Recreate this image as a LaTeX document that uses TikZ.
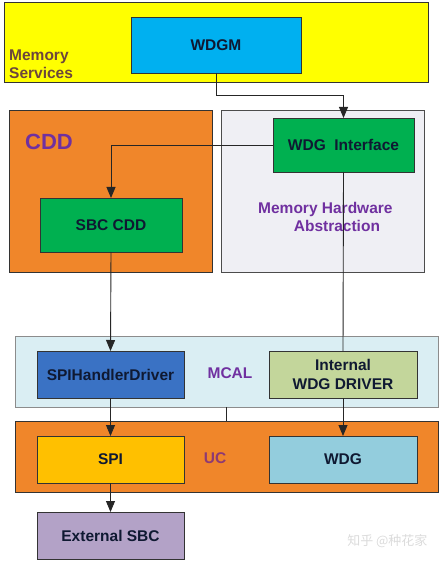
\documentclass[tikz,border=0pt]{standalone}
\usepackage{fontspec}
\setmainfont{Liberation Sans}
\newfontfamily\cjk{Noto Sans CJK SC}
\usetikzlibrary{arrows.meta}

\definecolor{memyellow}{RGB}{255,255,0}
\definecolor{wdgmblue}{RGB}{0,176,240}
\definecolor{layerorange}{RGB}{240,134,42}
\definecolor{hwgray}{RGB}{239,239,244}
\definecolor{ifgreen}{RGB}{0,176,80}
\definecolor{mcalcyan}{RGB}{218,238,243}
\definecolor{spiblue}{RGB}{58,114,196}
\definecolor{drvolive}{RGB}{195,214,155}
\definecolor{spigold}{RGB}{255,192,0}
\definecolor{wdgcyan}{RGB}{147,205,221}
\definecolor{sbclilac}{RGB}{179,162,199}
\definecolor{labelpurple}{RGB}{112,48,160}
\definecolor{labelbrown}{RGB}{108,70,60}
\definecolor{labelplum}{RGB}{142,58,115}
\definecolor{boxtext}{RGB}{15,25,50}

\begin{document}
\begin{tikzpicture}[x=1pt, y=-1pt,
    layer/.style={draw=black!80, line width=0.8pt, inner sep=0pt, outer sep=0pt},
    unit/.style={draw=black!80, line width=0.8pt, inner sep=0pt, outer sep=0pt,
      minimum width=147pt, minimum height=47pt, text=boxtext, align=center,
      font=\fontsize{15.5}{18.5}\selectfont\bfseries},
    lbl/.style={font=\fontsize{15.5}{18.5}\selectfont\bfseries, align=left, inner sep=0pt},
    conn/.style={draw=black!85, line width=0.9pt},
    flow/.style={conn, -{Triangle[width=9pt,length=11pt]}}]
    \useasboundingbox (0,0) rectangle (440,561);

    % layers
    \node[layer, fill=memyellow, minimum width=424pt, minimum height=80pt] (memsrv) at (216,42) {};
    \node[layer, fill=layerorange, minimum width=203pt, minimum height=162pt] (cdd) at (110.5,191) {};
    \node[layer, fill=hwgray, draw=black!70, minimum width=203pt, minimum height=162pt] (memhw) at (322.5,191) {};
    \node[layer, fill=mcalcyan, draw=black!45, minimum width=423pt, minimum height=71pt] (mcal) at (226.5,371.5) {};
    \node[layer, fill=layerorange, minimum width=423pt, minimum height=71pt] (uc) at (226.5,456.5) {};

    % layer labels
    \node[lbl, text=labelbrown, anchor=west] (memsrvlbl) at (9,64) {Memory\\Services};
    \node[lbl, text=labelpurple, anchor=west, font=\fontsize{22}{24}\selectfont\bfseries] (cddlbl) at (25,142) {CDD};
    \node[lbl, text=labelpurple, anchor=west] (memhwlbl) at (258,217) {Memory Hardware\\\hspace*{2.3em}Abstraction};
    \node[lbl, text=labelpurple] (mcallbl) at (230,373) {MCAL};
    \node[lbl, text=labelplum] (uclbl) at (215,458) {UC};

    % modules
    \node[unit, fill=wdgmblue, minimum width=170pt, minimum height=56pt] (wdgm) at (216,45) {WDGM};
    \node[unit, fill=ifgreen, minimum width=141pt, minimum height=54pt] (wdgif) at (343.5,145) {WDG\ \ Interface};
    \node[unit, fill=ifgreen, minimum width=142pt, minimum height=54pt] (sbccdd) at (111,225) {SBC CDD};
    \node[unit, fill=spiblue] (spihd) at (110.5,374.5) {SPIHandlerDriver};
    \node[unit, fill=drvolive, minimum width=148pt] (intwdg) at (343,374.5) {Internal\\WDG DRIVER};
    \node[unit, fill=spigold] (spi) at (110.5,459.5) {SPI};
    \node[unit, fill=wdgcyan, minimum width=148pt] (wdg) at (343,459.5) {WDG};
    \node[unit, fill=sbclilac] (extsbc) at (110.5,535.5) {External SBC};

    % connectors
    \draw[flow] (wdgm.south) -- ++(0,22) -| (wdgif.north);
    \draw[flow] (wdgif.west) -| (sbccdd.north);
    \draw[conn] (wdgif.south) -- (intwdg.north);
    \draw[flow] (intwdg.south) -- (wdg.north);
    \draw[flow] (sbccdd.south) -- (spihd.north);
    \draw[flow] (spihd.south) -- (spi.north);
    \draw[flow] (spi.south) -- (extsbc.north);
    \draw[conn] (mcal.south) -- (uc.north);

    \node[text=black!14, font=\cjk\fontsize{13}{15}\selectfont, anchor=east] (mark) at (431,541) {知乎 @种花家};
\end{tikzpicture}
\end{document}
